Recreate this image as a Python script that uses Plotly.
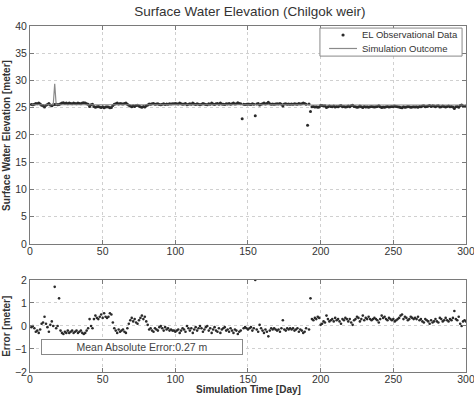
import plotly.graph_objects as go

# ---------------- data ----------------
days = list(range(1, 301))

# simulated elevation line vertices [m]
sim_days = [1, 16, 17, 18, 192, 193, 300]
sim_elev = [25.55, 25.55, 29.4, 25.55, 25.55, 25.5, 25.5]

# observed elevation, daily [m]
obs_elev = [
    25.6, 25.55, 25.65, 25.8, 25.75, 25.85, 25.7, 25.45, 25.4, 25.15,
    25.45, 25.6, 25.8, 25.5, 25.35, 25.55, 25.6, 25.65, 25.55, 25.6,
    25.75, 25.85, 25.9, 25.8, 25.85, 25.75, 25.85, 25.8, 25.75, 25.85,
    25.8, 25.75, 25.85, 25.8, 25.75, 25.85, 25.9, 25.85, 25.75, 25.65,
    25.25, 25.55, 25.65, 25.25, 25.1, 25.2, 25.25, 25.15, 25.05, 25.2,
    25.0, 25.15, 25.2, 25.15, 25.0, 25.05, 25.4, 25.65, 25.75, 25.85,
    25.7, 25.8, 25.75, 25.7, 25.8, 25.85, 25.65, 25.45, 25.3, 25.2,
    25.35, 25.25, 25.4, 25.45, 25.3, 25.2, 25.1, 25.25, 25.15, 25.35,
    25.5, 25.7, 25.65, 25.75, 25.8, 25.65, 25.7, 25.75, 25.6, 25.55,
    25.65, 25.75, 25.6, 25.7, 25.65, 25.75, 25.7, 25.75, 25.75, 25.8,
    25.75, 25.7, 25.85, 25.75, 25.65, 25.7, 25.8, 25.55, 25.65, 25.75,
    25.65, 25.85, 25.7, 25.6, 25.75, 25.65, 25.55, 25.65, 25.8, 25.7,
    25.6, 25.55, 25.75, 25.65, 25.85, 25.7, 25.6, 25.75, 25.8, 25.65,
    25.85, 25.7, 25.65, 25.6, 25.75, 25.7, 25.8, 25.65, 25.75, 25.85,
    25.7, 25.75, 25.9, 25.8, 25.75, 23.0, 25.65, 25.6, 25.65, 25.7,
    25.65, 25.6, 25.75, 25.65, 23.55, 25.7, 25.8, 25.5, 25.65, 25.75,
    25.85, 25.7, 25.8, 26.0, 25.75, 25.65, 25.7, 25.65, 25.7, 25.75,
    25.7, 25.8, 25.65, 25.3, 25.7, 25.75, 25.65, 25.7, 25.65, 25.7,
    25.65, 25.75, 25.7, 25.65, 25.8, 25.7, 25.75, 25.85, 25.8, 25.65,
    21.8, 25.7, 24.3, 25.2, 25.25, 25.15, 25.2, 25.1, 25.15, 25.45,
    25.4, 25.3, 25.35, 25.05, 25.2, 25.3, 25.25, 25.2, 25.3, 25.15,
    25.25, 25.2, 25.3, 25.4, 25.2, 25.25, 25.15, 25.2, 25.3, 25.2,
    25.35, 25.45, 25.25, 25.2, 25.1, 25.15, 25.3, 25.2, 25.05, 25.25,
    25.15, 25.2, 25.1, 25.2, 25.25, 25.2, 25.15, 25.2, 25.25, 25.35,
    25.2, 25.05, 25.15, 25.1, 25.2, 25.25, 25.15, 25.2, 25.25, 25.2,
    25.3, 25.25, 25.2, 25.15, 25.05, 25.0, 25.2, 25.1, 25.15, 25.25,
    25.2, 25.1, 25.15, 25.2, 25.15, 25.2, 25.1, 25.25, 25.2, 25.3,
    25.35, 25.2, 25.25, 25.3, 25.4, 25.25, 25.35, 25.3, 25.2, 25.3,
    25.35, 25.15, 25.2, 25.3, 25.25, 25.15, 25.25, 25.3, 25.2, 25.25,
    25.15, 24.85, 25.2, 25.25, 25.1, 25.4, 25.5, 25.3, 25.25, 25.3,
]

# daily error (simulation - observation) [m]
error = [
    -0.05, 0.0, -0.1, -0.25, -0.2, -0.3, -0.15, 0.1, 0.15, 0.4,
    0.1, -0.05, -0.25, 0.05, 0.2, 0.0, 1.7, -0.1, 0.0, 1.2,
    -0.2, -0.3, -0.35, -0.25, -0.3, -0.2, -0.3, -0.25, -0.2, -0.3,
    -0.25, -0.2, -0.3, -0.25, -0.2, -0.3, -0.35, -0.3, -0.2, -0.1,
    0.3, 0.0, -0.1, 0.3, 0.45, 0.35, 0.3, 0.4, 0.5, 0.35,
    0.55, 0.4, 0.35, 0.4, 0.55, 0.5, 0.15, -0.1, -0.2, -0.3,
    -0.15, -0.25, -0.2, -0.15, -0.25, -0.3, -0.1, 0.1, 0.25, 0.35,
    0.2, 0.3, 0.15, 0.1, 0.25, 0.35, 0.45, 0.3, 0.4, 0.2,
    0.05, -0.15, -0.1, -0.2, -0.25, -0.1, -0.15, -0.2, -0.05, 0.0,
    -0.1, -0.2, -0.05, -0.15, -0.1, -0.2, -0.15, -0.2, -0.2, -0.25,
    -0.2, -0.15, -0.3, -0.2, -0.1, -0.15, -0.25, 0.0, -0.1, -0.2,
    -0.1, -0.3, -0.15, -0.05, -0.2, -0.1, 0.0, -0.1, -0.25, -0.15,
    -0.05, 0.0, -0.2, -0.1, -0.3, -0.15, -0.05, -0.2, -0.25, -0.1,
    -0.3, -0.15, -0.1, -0.05, -0.2, -0.15, -0.25, -0.1, -0.2, -0.3,
    -0.15, -0.2, -0.35, -0.25, -0.2, 2.6, -0.1, -0.05, -0.1, -0.15,
    -0.1, -0.05, -0.2, -0.1, 2.0, -0.15, -0.25, 0.05, -0.1, -0.2,
    -0.3, -0.15, -0.25, -0.45, -0.2, -0.1, -0.15, -0.1, -0.15, -0.2,
    -0.15, -0.25, -0.1, 0.25, -0.15, -0.2, -0.1, -0.15, -0.1, -0.15,
    -0.1, -0.2, -0.15, -0.1, -0.25, -0.15, -0.2, -0.3, -0.25, -0.1,
    3.75, -0.15, 1.2, 0.3, 0.25, 0.35, 0.3, 0.4, 0.35, 0.05,
    0.1, 0.2, 0.15, 0.45, 0.3, 0.2, 0.25, 0.3, 0.2, 0.35,
    0.25, 0.3, 0.2, 0.1, 0.3, 0.25, 0.35, 0.3, 0.2, 0.3,
    0.15, 0.05, 0.25, 0.3, 0.4, 0.35, 0.2, 0.3, 0.45, 0.25,
    0.35, 0.3, 0.4, 0.3, 0.25, 0.3, 0.35, 0.3, 0.25, 0.15,
    0.3, 0.45, 0.35, 0.4, 0.3, 0.25, 0.35, 0.3, 0.25, 0.3,
    0.2, 0.25, 0.3, 0.35, 0.45, 0.5, 0.3, 0.4, 0.35, 0.25,
    0.3, 0.4, 0.35, 0.3, 0.35, 0.3, 0.4, 0.25, 0.3, 0.2,
    0.15, 0.3, 0.25, 0.2, 0.1, 0.25, 0.15, 0.2, 0.3, 0.2,
    0.15, 0.35, 0.3, 0.2, 0.25, 0.35, 0.25, 0.2, 0.3, 0.25,
    0.35, 0.65, 0.3, 0.25, 0.4, 0.1, 0.0, 0.2, 0.25, 0.2,
]

x_ticks = [0, 50, 100, 150, 200, 250, 300]
elev_ticks = [0, 5, 10, 15, 20, 25, 30, 35, 40]
err_ticks = [-2, -1, 0, 1, 2]
legend_labels = ["EL Observational Data", "Simulation Outcome"]
mae_label = "Mean Absolute Error:0.27 m"

# ---------------- figure ----------------
FONT = "Liberation Sans, Arial, sans-serif"
AX = "#7a7a7a"
GRID = "#d0d0d0"
DOT = "#2a2a2a"
SIMC = "#8a8a8a"

fig = go.Figure()
fig.add_trace(go.Scatter(
    x=days, y=obs_elev, mode="markers", name=legend_labels[0],
    marker=dict(size=3, color=DOT), xaxis="x", yaxis="y", showlegend=False,
))
fig.add_trace(go.Scatter(
    x=sim_days, y=sim_elev, mode="lines", name=legend_labels[1],
    line=dict(color=SIMC, width=1.2), xaxis="x", yaxis="y", showlegend=False,
))
fig.add_trace(go.Scatter(
    x=days, y=error, mode="markers", showlegend=False,
    marker=dict(size=2.6, color=DOT), xaxis="x2", yaxis="y2",
))

axis_common = dict(
    showline=True, linecolor=AX, linewidth=1, mirror="ticks",
    ticks="inside", ticklen=4, tickcolor=AX, automargin=False,
    showgrid=True, gridcolor=GRID, griddash="dot", gridwidth=1,
    zeroline=False, ticklabeloverflow="allow",
    tickfont=dict(size=10.5, color="#333", family=FONT),
)

fig.update_layout(
    width=474, height=399,
    margin=dict(l=30, r=8, t=26, b=27),
    paper_bgcolor="white", plot_bgcolor="white",
    font=dict(family=FONT, color="#333"),
    title=dict(text="Surface Water Elevation (Chilgok weir)", x=0.527, xanchor="center",
               y=0.972, yanchor="middle", font=dict(size=13.5, color="#333", family=FONT)),
    xaxis=dict(domain=[0, 1], range=[0, 300.01], tickvals=x_ticks, anchor="y",
               ticklabelstandoff=-3, **axis_common),
    yaxis=dict(domain=[0.37, 1], range=[0, 40], tickvals=elev_ticks, anchor="x", **axis_common),
    xaxis2=dict(domain=[0, 1], range=[0, 300.01], tickvals=x_ticks, anchor="y2",
                ticklabelstandoff=-3, **axis_common),
    yaxis2=dict(domain=[0, 0.266], range=[-2, 2], tickvals=err_ticks, anchor="x2", **axis_common),
    showlegend=False,
)

# ---- legend box (drawn by hand to match the compact original) ----
fig.add_shape(type="rect", xref="paper", yref="paper", x0=0.665, x1=0.991, y0=0.913, y1=0.994,
              line=dict(color="#888", width=1), fillcolor="white", layer="above")
fig.add_shape(type="circle", xref="paper", yref="paper", xsizemode="pixel", ysizemode="pixel",
              xanchor=0.718, yanchor=0.974, x0=-1.6, x1=1.6, y0=-1.6, y1=1.6,
              fillcolor=DOT, line=dict(width=0), layer="above")
fig.add_shape(type="line", xref="paper", yref="paper", x0=0.686, x1=0.750, y0=0.935, y1=0.935,
              line=dict(color=SIMC, width=1.2), layer="above")
for lbl, yy in zip(legend_labels, [0.974, 0.935]):
    fig.add_annotation(text=lbl, xref="paper", yref="paper", x=0.758, y=yy,
                       xanchor="left", yanchor="middle", showarrow=False,
                       font=dict(size=9.5, color="#333", family=FONT))

fig.add_annotation(text="<b>Surface Water Elevation [meter]</b>", xref="paper", yref="y domain",
                   x=-0.053, y=0.5, xanchor="center", yanchor="middle", textangle=-90, showarrow=False,
                   font=dict(size=10, color="#333", family=FONT))
fig.add_annotation(text="<b>Error [meter]</b>", xref="paper", yref="y2 domain",
                   x=-0.053, y=0.5, xanchor="center", yanchor="middle", textangle=-90, showarrow=False,
                   font=dict(size=10, color="#333", family=FONT))
fig.add_annotation(text="<b>Simulation Time [Day]</b>", xref="paper", yref="paper",
                   x=0.5, y=-0.052, yanchor="middle", showarrow=False,
                   font=dict(size=10, color="#333", family=FONT))
fig.add_annotation(text=mae_label, xref="x2", yref="y2", x=77, y=-0.92,
                   showarrow=False, width=198, height=12, align="center",
                   bordercolor="#888", borderwidth=1, borderpad=1, bgcolor="white",
                   font=dict(size=10.5, color="#444", family=FONT))

fig.write_html("out.html", config={"displayModeBar": False},
               post_script="document.body.style.margin='0';")
